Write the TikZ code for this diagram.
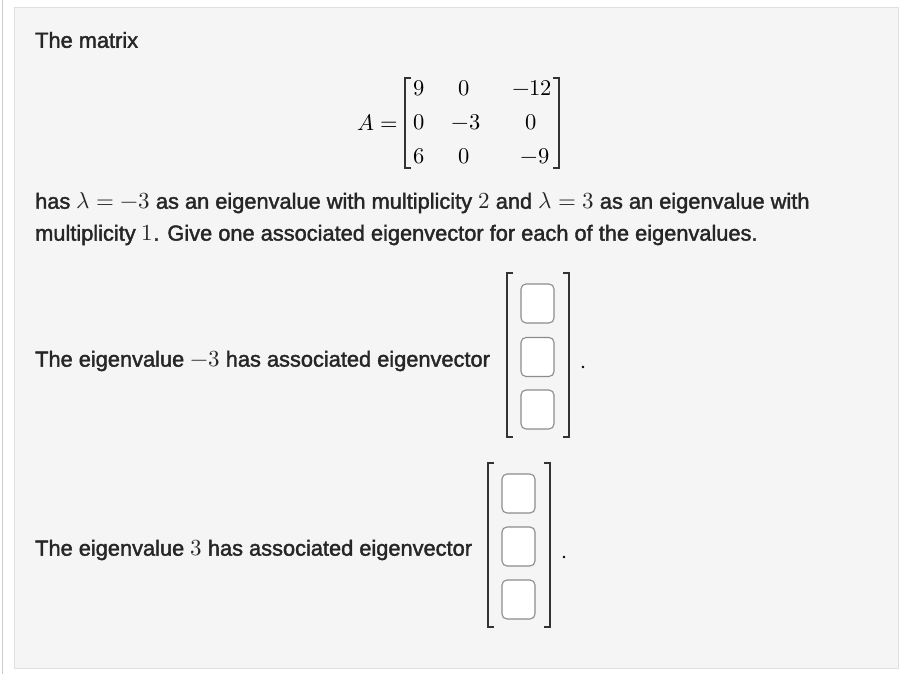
\documentclass[tikz,border=0pt]{standalone}
\usepackage{fontspec}
\setmainfont{Liberation Sans}[FakeBold=1.8]
\usepackage{amsmath}
\usepackage{unicode-math}
\setmathfont{Latin Modern Math}
\begin{document}
\begin{tikzpicture}[x=1pt,y=-1pt,
  txt/.style={anchor=west,inner sep=0pt,font=\fontsize{21.8}{22}\selectfont,text=black!85},
  mth/.style={inner sep=0pt,font=\fontsize{22.5}{22}\selectfont},
  ansbox/.style={draw=black!45,line width=1.1pt,fill=white,rounded corners=5pt,minimum width=33pt,minimum height=39pt,inner sep=0pt},
  brk/.style={line width=1.3pt,draw=black!80}]
\useasboundingbox (0,0) rectangle (911,674);
\fill[white] (0,0) rectangle (911,674);
\draw[black!20] (2,0) -- (2,674);
\draw[fill=black!4,draw=black!12] (14,7) rectangle (898,668);
\node[txt] (t1) at (35,40) {The matrix};
% matrix
\node[mth,anchor=east] (A) at (398,122) {$A=$};
\draw[brk] (411,78) -- (405,78) -- (405,168) -- (411,168);
\draw[brk] (553,78) -- (559,78) -- (559,168) -- (553,168);
\node[mth] (m11) at (419,88) {$9$};
\node[mth] (m12) at (464,88) {$0$};
\node[mth] (m13) at (532,88) {$-12$};
\node[mth] (m21) at (419,122) {$0$};
\node[mth] (m22) at (466,122) {$-3$};
\node[mth] (m23) at (531,122) {$0$};
\node[mth] (m31) at (419,156) {$6$};
\node[mth] (m32) at (464,156) {$0$};
\node[mth] (m33) at (535,156) {$-9$};
\node[txt] (t2) at (35,203) {has {\fontsize{23}{22}\selectfont$\lambda=-3$} as an eigenvalue with multiplicity {\fontsize{23}{22}\selectfont$2$} and {\fontsize{23}{22}\selectfont$\lambda=3$} as an eigenvalue with};
\node[txt] (t3) at (35,235) {multiplicity {\fontsize{23}{22}\selectfont$1$}. Give one associated eigenvector for each of the eigenvalues.};
% first
\node[txt] (e1) at (35,361) {The eigenvalue {\fontsize{23}{22}\selectfont$-3$} has associated eigenvector};
\draw[brk] (513,273) -- (507,273) -- (507,437) -- (513,437);
\draw[brk] (563,273) -- (569,273) -- (569,437) -- (563,437);
\node[ansbox] (b11) at (537.5,303.5) {};
\node[ansbox] (b12) at (537.5,357) {};
\node[ansbox] (b13) at (537.5,409.5) {};
\fill (583,367) circle (1.3pt);
% second
\node[txt] (e2) at (35,550) {The eigenvalue {\fontsize{23}{22}\selectfont$3$} has associated eigenvector};
\draw[brk] (494,463) -- (488,463) -- (488,627) -- (494,627);
\draw[brk] (544,463) -- (550,463) -- (550,627) -- (544,627);
\node[ansbox] (b21) at (518.5,493.5) {};
\node[ansbox] (b22) at (518.5,546.5) {};
\node[ansbox] (b23) at (518.5,599.5) {};
\fill (564,557) circle (1.3pt);
\end{tikzpicture}
\end{document}
